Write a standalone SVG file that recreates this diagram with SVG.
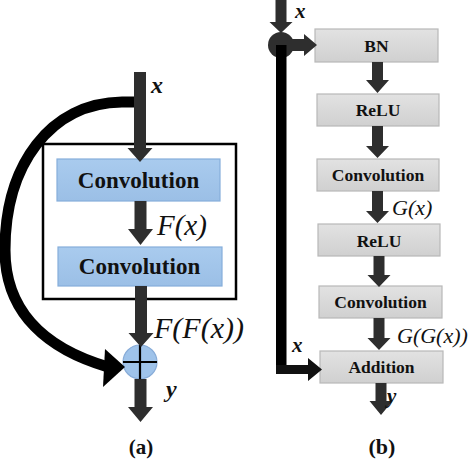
<svg xmlns="http://www.w3.org/2000/svg" width="474" height="460" viewBox="0 0 474 460">
<defs>
<linearGradient id="gg" x1="0" y1="0" x2="0" y2="1"><stop offset="0" stop-color="#e2e2e2"/><stop offset="1" stop-color="#d0d0d0"/></linearGradient>
<linearGradient id="bg" x1="0" y1="0" x2="0" y2="1"><stop offset="0" stop-color="#a9cbee"/><stop offset="1" stop-color="#9bbfe6"/></linearGradient>
</defs>
<style>
.blue{fill:url(#bg);stroke:#86aedb;stroke-width:1.2}
.gray{fill:url(#gg);stroke:#b8b8b8;stroke-width:1.2}
text{font-family:'Liberation Serif','Times New Roman',Tinos,'DejaVu Serif',serif;fill:#111}
.lb{font-weight:bold;text-anchor:middle}
.it{font-style:italic}
.bi{font-style:italic;font-weight:bold}
.ar{fill:#2e2e2e}
</style>
<rect width="474" height="460" fill="#fff"/>
<g id="panel-a-frame"><rect x="43" y="144" width="193" height="155" fill="none" stroke="#000" stroke-width="2.5"/></g>
<g id="conv-a1"><rect class="blue" x="57" y="159" width="163" height="42"/><text class="lb" x="138.5" y="188" font-size="23">Convolution</text></g>
<g id="conv-a2"><rect class="blue" x="58" y="247" width="164" height="39"/><text class="lb" x="139.5" y="274" font-size="23">Convolution</text></g>
<g id="add-a"><circle cx="140" cy="362" r="17" fill="#9fc3ea" stroke="#88acd8" stroke-width="1.2"/><path d="M123 362H157M140 345V379" stroke="#000" stroke-width="2.2"/></g>
<g id="bn"><rect class="gray" x="315" y="29" width="123" height="33"/><text class="lb" x="376.5" y="52" font-size="17.5">BN</text></g>
<g id="relu1"><rect class="gray" x="317" y="94" width="122" height="32"/><text class="lb" x="378" y="116" font-size="17.5">ReLU</text></g>
<g id="conv-b1"><rect class="gray" x="317" y="159" width="122" height="32"/><text class="lb" x="378" y="181" font-size="17.5">Convolution</text></g>
<g id="relu2"><rect class="gray" x="318" y="224" width="122" height="32"/><text class="lb" x="379" y="247" font-size="17.5">ReLU</text></g>
<g id="conv-b2"><rect class="gray" x="319" y="286" width="123" height="32"/><text class="lb" x="380.5" y="308" font-size="17.5">Convolution</text></g>
<g id="addition"><rect class="gray" x="320" y="351" width="123" height="32"/><text class="lb" x="381.5" y="373" font-size="17.5">Addition</text></g>
<g id="split"><circle cx="281" cy="45" r="13" fill="#2e2e2e"/></g>
<g id="connectors">
<path d="M141 102H122C50 103 5 165 5 250C5 315 50 350 108 367" fill="none" stroke="#000" stroke-width="11"/>
<polygon points="105,349 125,367 103,387" fill="#000"/>
<polygon class="ar" points="134,72 146,72 146,148 152.5,148 140,162 127.5,148 134,148"/>
<polygon class="ar" points="134.5,201 146.5,201 146.5,229 153,229 140.5,245 128,229 134.5,229"/>
<polygon class="ar" points="135,286 147,286 147,333 153.5,333 141,347 128.5,333 135,333"/>
<polygon class="ar" points="134.5,379 146.5,379 146.5,407 153,407 140.5,422 128,407 134.5,407"/>
<polygon class="ar" points="275.5,0 286.5,0 286.5,22 292.5,22 281,33 269.5,22 275.5,22"/>
<polygon class="ar" points="281,39 304,39 304,34 317,45 304,56 304,51 281,51"/>
<rect x="276" y="45" width="10.5" height="329" fill="#000"/>
<polygon points="276,365 308,365 308,358 322,369.5 308,381 308,374 276,374" fill="#111"/>
<polygon class="ar" points="372,62 383,62 383,80 389,80 377.5,93 366,80 372,80"/>
<polygon class="ar" points="372,126 383,126 383,146 389,146 377.5,158 366,146 372,146"/>
<polygon class="ar" points="372,191 383,191 383,211 389,211 377.5,223 366,211 372,211"/>
<polygon class="ar" points="373.5,256 384.5,256 384.5,275 390.5,275 379,287 367.5,275 373.5,275"/>
<polygon class="ar" points="373.5,318 384.5,318 384.5,338 390.5,338 379,350 367.5,338 373.5,338"/>
<polygon class="ar" points="375.5,383 386.5,383 386.5,401 392.5,401 381,415 369.5,401 375.5,401"/>
</g>
<g id="labels">
<text class="bi" x="151" y="93" font-size="24">x</text>
<text class="it" x="157" y="235" font-size="29">F(x)</text>
<text class="it" x="154" y="338" font-size="30">F(F(x))</text>
<text class="bi" x="166" y="397" font-size="24">y</text>
<text class="lb" x="141" y="454" font-size="21">(a)</text>
<text class="bi" x="295" y="18" font-size="21">x</text>
<text class="it" x="392" y="215" font-size="22">G(x)</text>
<text class="it" x="397" y="343" font-size="22">G(G(x))</text>
<text class="bi" x="292" y="352" font-size="21">x</text>
<text class="bi" x="387" y="403" font-size="21">y</text>
<text class="lb" x="382" y="454" font-size="22">(b)</text>
</g>
</svg>
